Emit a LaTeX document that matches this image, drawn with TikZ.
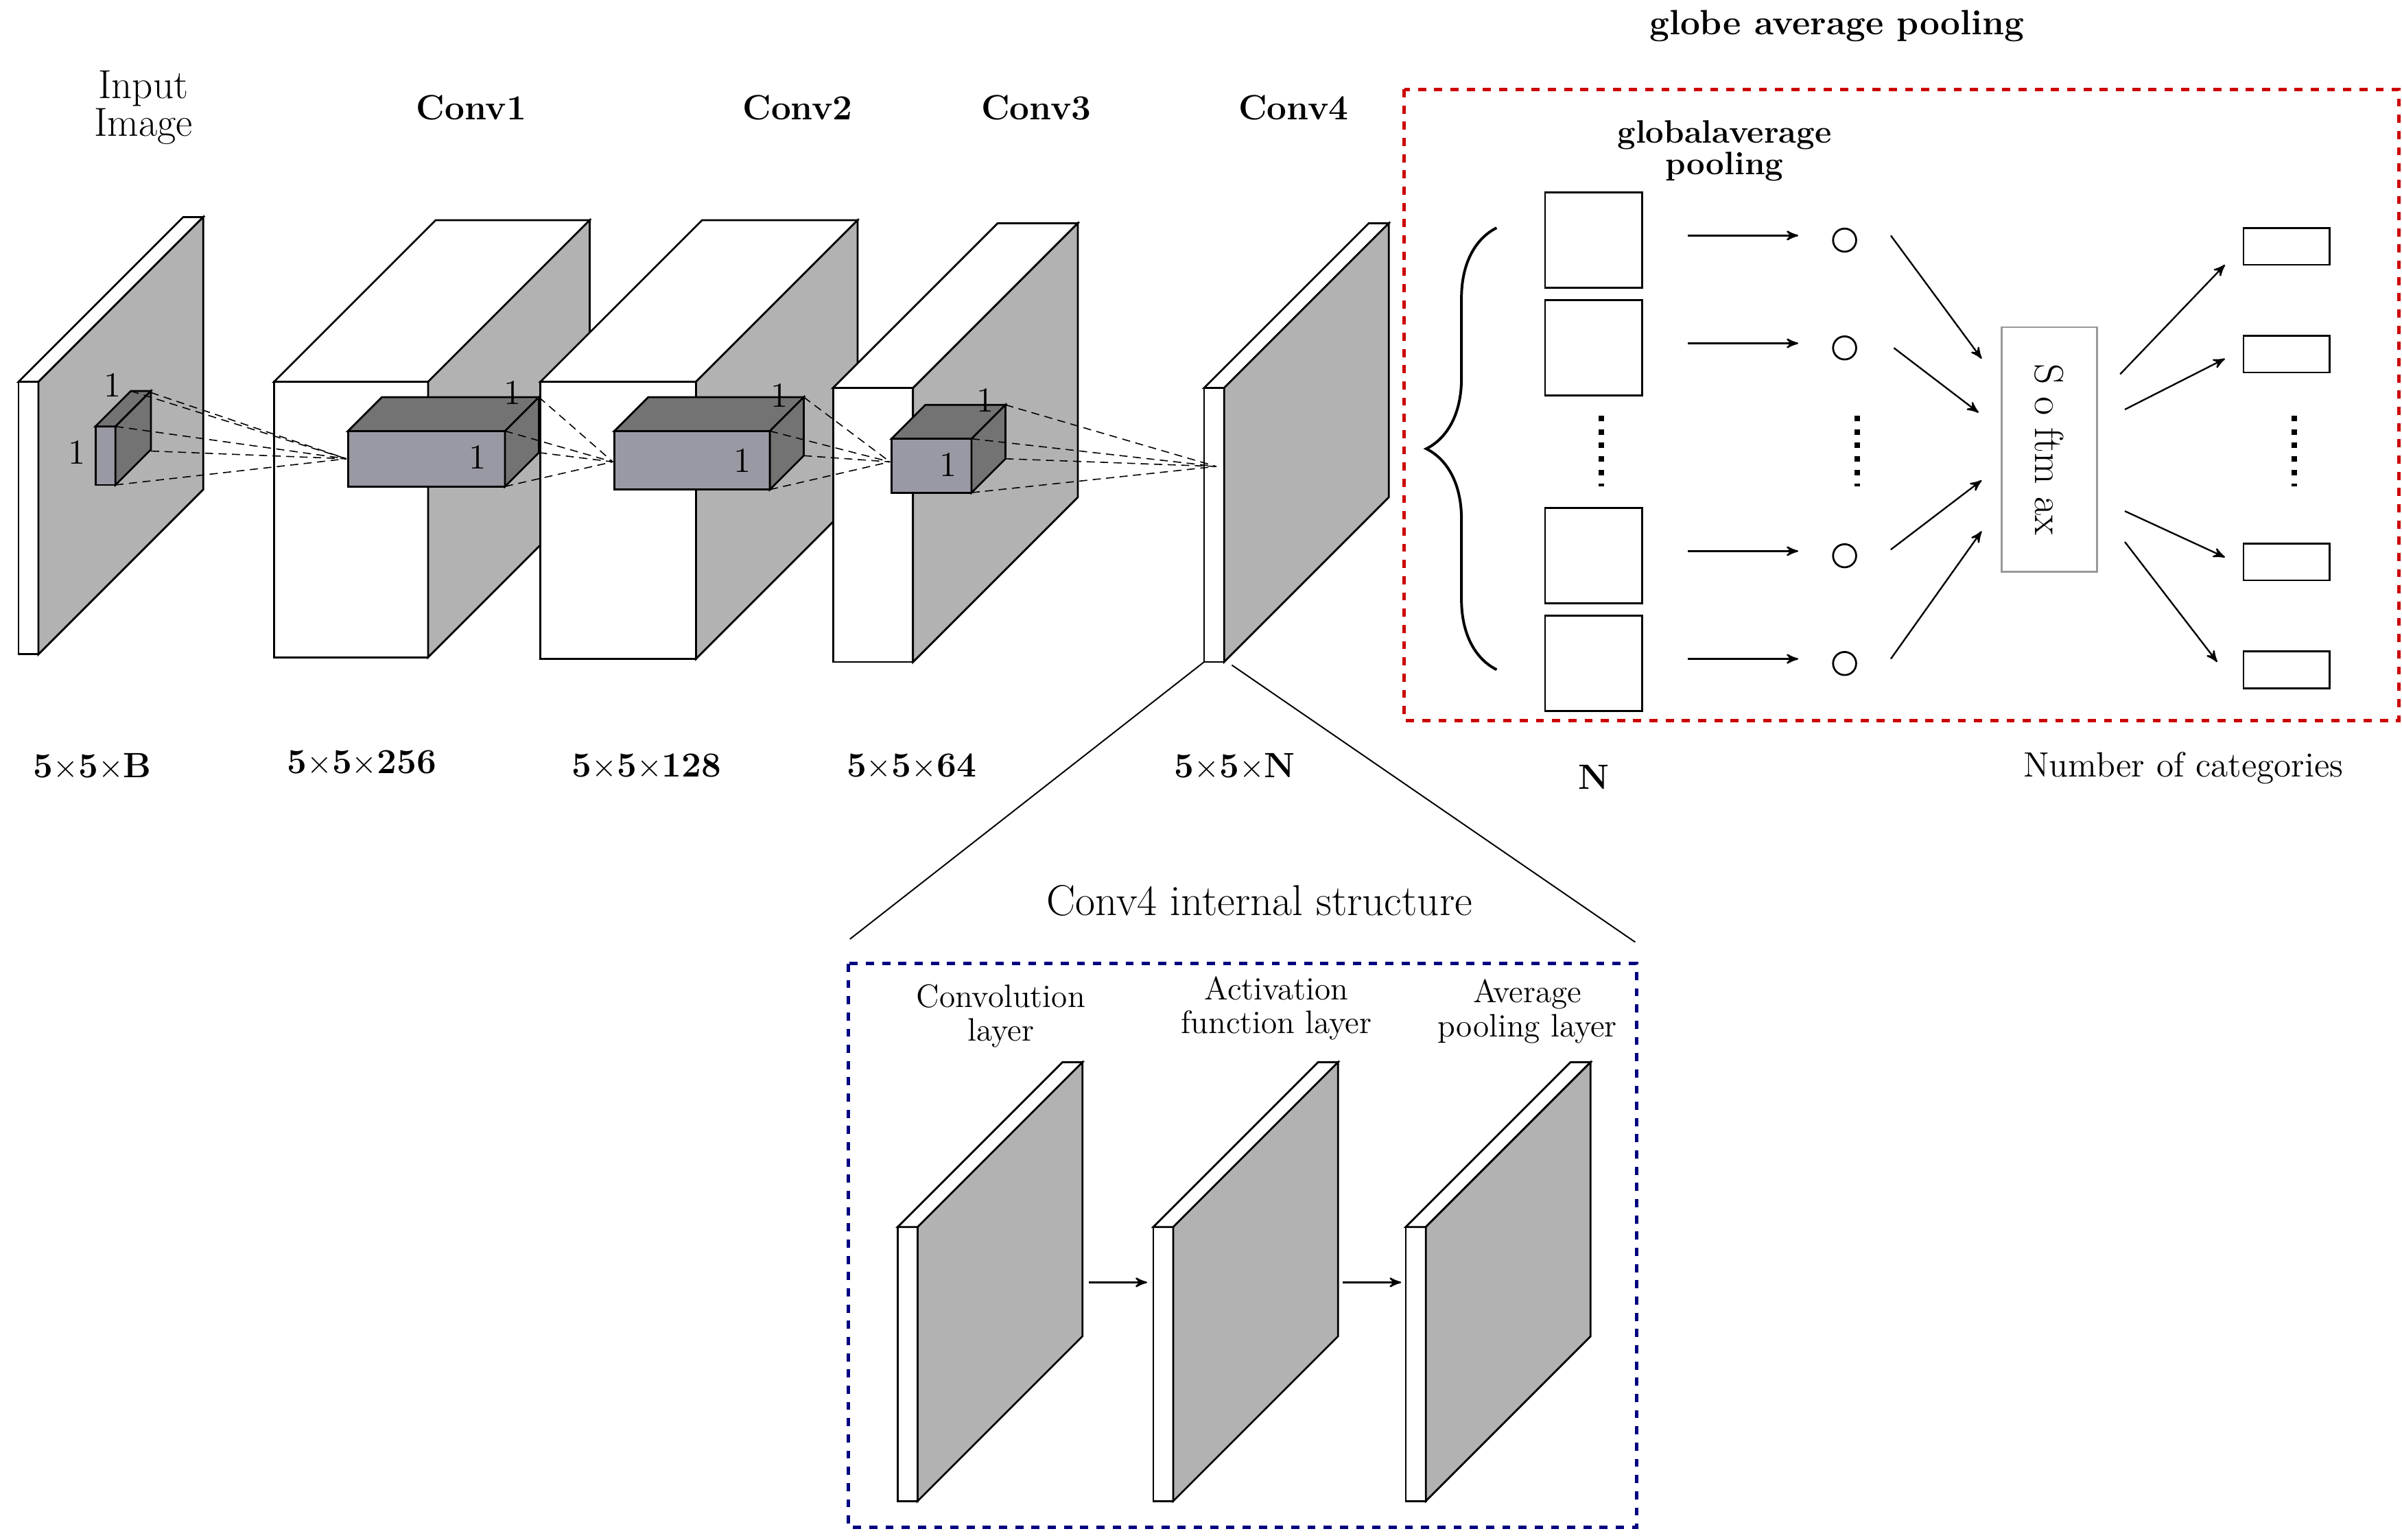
\documentclass[tikz,border=0pt]{standalone}
\usepackage{tikz}
\usetikzlibrary{arrows,positioning,calc,decorations.pathreplacing}
\tikzset{
    %Define standard arrow tip
    >=stealth',
    %Define style for labels
    lbl/.style={font=\fontsize{13}{14}\selectfont\bfseries, align=center},
    sub/.style={font=\fontsize{12}{12.5}\selectfont, align=center, inner sep=0pt},
    % Define arrow style
    pil/.style={->, line width=0.6pt},
    cell/.style={draw, minimum width=1.26cm, minimum height=1.24cm, inner sep=0pt},
    outc/.style={draw, minimum width=1.12cm, minimum height=0.48cm, inner sep=0pt},
    dot/.style={circle, draw, minimum size=0.3cm, inner sep=0pt}
}
% block: x, ytop, ybot, front width, depth, front fill, side fill
\newcommand{\block}[7]{
  \draw[fill=#6] (#1,#2) rectangle ({#1+#4},#3);
  \draw[fill=#6] (#1,#2) -- ({#1+#5},{#2-#5}) -- ({#1+#4+#5},{#2-#5}) -- ({#1+#4},#2) -- cycle;
  \draw[fill=#7] ({#1+#4},#2) -- ({#1+#4+#5},{#2-#5}) -- ({#1+#4+#5},{#3-#5}) -- ({#1+#4},#3) -- cycle;
}
\newcommand{\cube}[6]{
  \draw[fill=#6] (#1,#2) rectangle ({#1+#4},#3);
  \draw[fill=black!55] (#1,#2) -- ({#1+#5},{#2-#5}) -- ({#1+#4+#5},{#2-#5}) -- ({#1+#4},#2) -- cycle;
  \draw[fill=black!55] ({#1+#4},#2) -- ({#1+#4+#5},{#2-#5}) -- ({#1+#4+#5},{#3-#5}) -- ({#1+#4},#3) -- cycle;
}
\begin{document}
\begin{tikzpicture}[x=0.02cm,y=-0.02cm,line width=0.7pt]
\useasboundingbox (0,0) rectangle (1560,1000);
% feature maps
\block{12}{248}{425}{13}{107}{white}{black!30}
\block{178}{248}{427}{100}{105}{white}{black!30}
\block{351}{248}{428}{101}{105}{white}{black!30}
\block{541}{252}{430}{52}{107}{white}{black!30}
\block{782}{252}{430}{13}{107}{white}{black!30}
% kernels
\cube{62}{277}{315}{13}{23}{blue!10!black!40}
\cube{226}{280}{316}{102}{22}{blue!10!black!40}
\cube{399}{280}{318}{101}{22}{blue!10!black!40}
\cube{579}{285}{320}{52}{22}{blue!10!black!40}
\draw (278,316) -- (278,412);
\draw (452,318) -- (452,415);
\draw (593,320) -- (593,368);
\coordinate (f1) at (225,298);
\coordinate (f2) at (398,300);
\coordinate (f3) at (578,300);
\coordinate (f4) at (790,303);
\foreach \a/\b in {85/254,98/255,98/293,75/315,75/277}
  \draw[densely dashed, line width=0.4pt] (\a,\b) -- (f1);
\foreach \a/\b in {350/258,350/294,328/316,328/280}
  \draw[densely dashed, line width=0.4pt] (\a,\b) -- (f2);
\foreach \a/\b in {522/258,522/296,500/318,500/280}
  \draw[densely dashed, line width=0.4pt] (\a,\b) -- (f3);
\foreach \a/\b in {653/263,653/298,631/320,631/285}
  \draw[densely dashed, line width=0.4pt] (\a,\b) -- (f4);
\foreach \a/\b in {73/250,50/294,333/255,310/297,506/257,482/299,640/260,616/302}
  \node[font=\fontsize{13}{14}\selectfont] at (\a,\b) {1};
% labels
\node[font=\fontsize{15}{14}\selectfont, align=center] at (93,70) {Input\\Image};
\node[lbl] at (306,70) {Conv1};
\node[lbl] at (518,70) {Conv2};
\node[lbl] at (673,70) {Conv3};
\node[lbl] at (840,70) {Conv4};
\node[lbl] at (60,498) {5$\times$5$\times$B};
\node[lbl] at (235,496) {5$\times$5$\times$256};
\node[lbl] at (420,498) {5$\times$5$\times$128};
\node[lbl] at (592,498) {5$\times$5$\times$64};
\node[lbl] at (802,498) {5$\times$5$\times$N};
\node[lbl] at (1035,505) {N};
\node[font=\fontsize{13}{14}\selectfont] at (1418,499) {Number of categories};
% global average pooling
\node[lbl] at (1193,17) {globe average pooling};
\draw[red!80!black, dashed, line width=1.3pt] (912,58) rectangle (1558,468);
\node[lbl, font=\fontsize{12}{10}\selectfont\bfseries] at (1120,98) {globalaverage\\pooling};
\draw[decorate, decoration={brace, amplitude=26pt}, line width=1pt] (972,435) -- (972,148);
\foreach \i/\y in {1/156,2/226,3/361,4/431}{
  \node[cell] (c\i) at (1035,\y) {};
  \node[dot] (d\i) at (1198,\y) {};
  \draw[pil] ($(c\i.east)+(29,-3)$) -- ($(d\i.west)+(-22,-3)$);
}
\node[draw=black!40, minimum width=1.24cm, minimum height=3.18cm] (sm) at (1331,292) {};
\node[rotate=-90, font=\fontsize{15}{14}\selectfont] at (sm) {S o ftm ax};
\foreach \i/\y in {1/160,2/230,3/365,4/435}
  \node[outc] (o\i) at (1485,\y) {};
\draw[pil] (1228,153) -- (1287,233);
\draw[pil] (1230,226) -- (1285,268);
\draw[pil] (1228,357) -- (1287,312);
\draw[pil] (1228,428) -- (1287,345);
\draw[pil] (1377,243) -- (1445,172);
\draw[pil] (1380,266) -- (1445,233);
\draw[pil] (1380,332) -- (1445,362);
\draw[pil] (1380,352) -- (1440,430);
\foreach \x in {1040,1206,1490}
  \draw[line width=2pt, dash pattern=on 2pt off 3pt] (\x,270) -- (\x,316);
% internal structure
\coordinate (z1) at (552,610);
\coordinate (z2) at (1062,612);
\draw[line width=0.5pt] (782,430) -- (z1);
\draw[line width=0.5pt] (800,432) -- (z2);
\node[font=\fontsize{16}{14}\selectfont] at (818,585) {Conv4 internal structure};
\draw[blue!50!black, dashed, line width=1.3pt] (551,626) rectangle (1063,992);
\node[sub] at (650,660) {Convolution\\layer};
\node[sub] at (829,655) {Activation\\function layer};
\node[sub] at (992,657) {Average\\pooling layer};
\block{583}{797}{975}{13}{107}{white}{black!30}
\block{749}{797}{975}{13}{107}{white}{black!30}
\block{913}{797}{975}{13}{107}{white}{black!30}
\draw[pil] (707,833) -- (745,833);
\draw[pil] (872,833) -- (910,833);
\end{tikzpicture}
\end{document}
